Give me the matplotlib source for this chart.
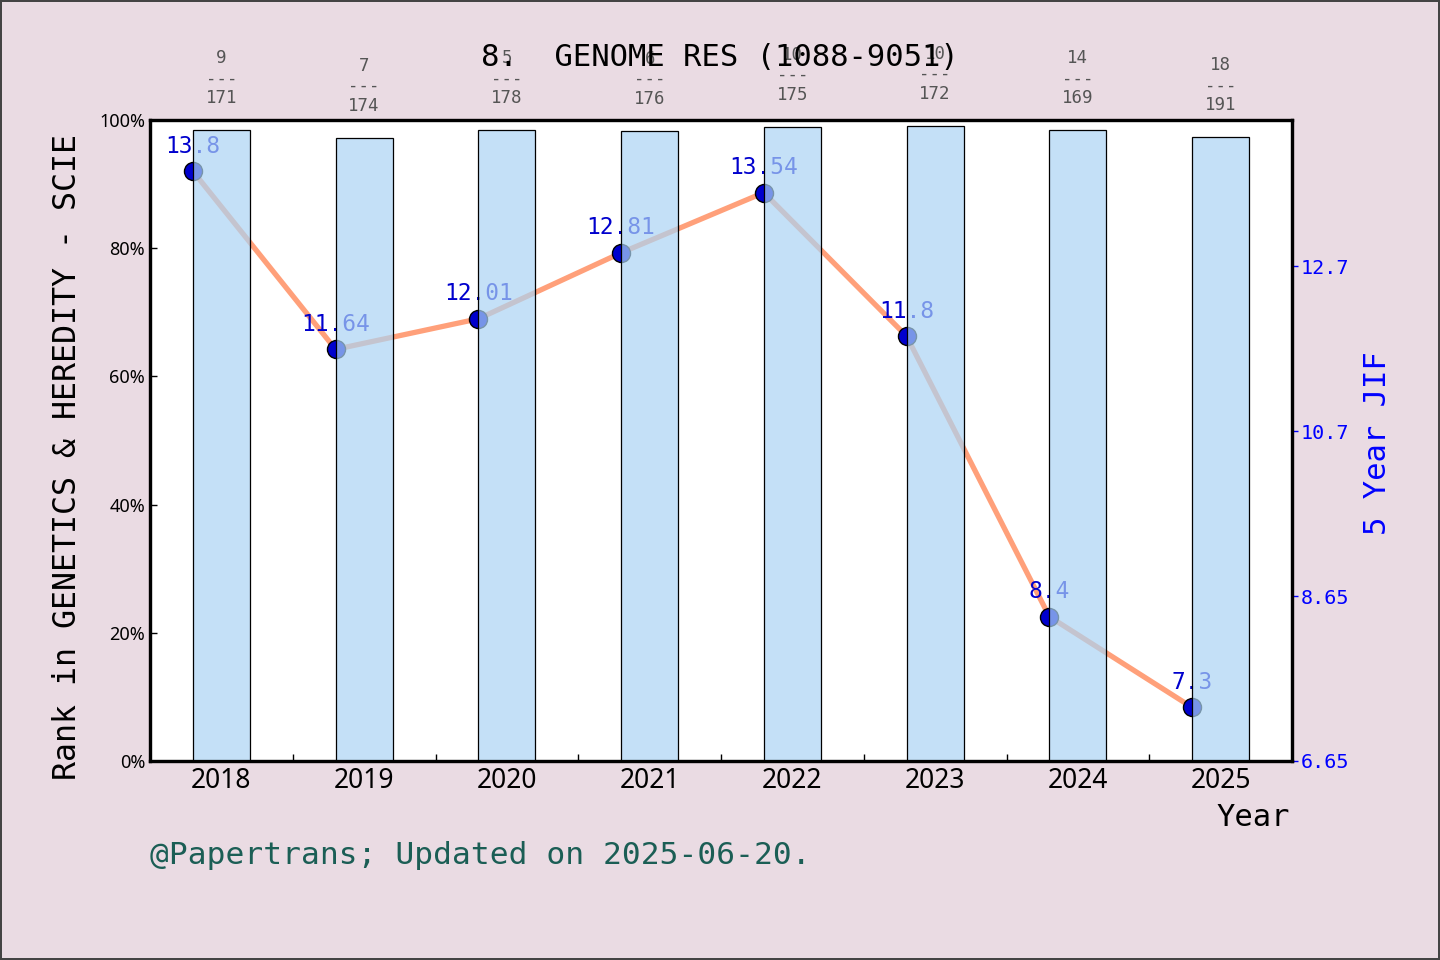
import numpy as np
import matplotlib.pyplot as plt

## Data
years = ['2018', '2019', '2020', '2021', '2022', '2023', '2024', '2025']
jif5 = [13.8, 11.64, 12.01, 12.81, 13.54, 11.8, 8.4, 7.3]
bar_pct = [0.984, 0.972, 0.984, 0.983, 0.989, 0.991, 0.984, 0.973]
rank_top = ['9', '7', '5', '6', '10', '10', '14', '18']
rank_total = ['171', '174', '178', '176', '175', '172', '169', '191']
jif_ticks = [6.65, 8.65, 10.65, 12.65]
pct_ticks = [0, 0.2, 0.4, 0.6, 0.8, 1.0]

mono = 'DejaVu Sans Mono'
sans = 'Noto Sans'

fig = plt.figure(figsize=(14.4, 9.6), dpi=100)
fig.patch.set_facecolor('#eadbe3')
fig.patch.set_edgecolor('#444444')
fig.patch.set_linewidth(1.5)

ax1 = fig.add_axes([150/1440, 1 - 761/960, 1142/1440, 641/960])
ax2 = ax1.twinx()
# bars sit above the line so they tint it
ax1.set_zorder(ax2.get_zorder() + 1)
ax1.patch.set_visible(False)
ax2.patch.set_visible(True)
ax2.patch.set_facecolor('white')

x = np.arange(len(years))

# line + points (right axis)
ax2.plot(x, jif5, '-', color='#ffa07a', lw=3.8, zorder=1)
ax2.plot(x, jif5, 'o', ms=13, mfc='#0000cd', mec='black', mew=1, zorder=2)
for xi, v in zip(x, jif5):
    ax2.annotate('%g' % v, (xi, v), xytext=(0, 18), textcoords='offset points',
                 ha='center', va='center', color='#0000cd', fontsize=16.5, family=mono)
ax2.set_ylim(6.65, 14.42)
ax2.set_yticks(jif_ticks)
ax2.set_yticklabels(['%.3g' % t for t in jif_ticks])
ax2.tick_params(axis='y', colors='blue', labelsize=14.5, direction='out', length=4, width=1, pad=2)
for lab in ax2.get_yticklabels():
    lab.set_family(mono)
    lab.set_color('blue')

# bars (left axis)
ax1.bar(x, bar_pct, width=0.4, align='edge', facecolor=(0.67, 0.83, 0.957, 0.7),
        edgecolor='black', linewidth=0.9)
for xi, h, a, b in zip(x, bar_pct, rank_top, rank_total):
    ax1.text(xi + 0.2, h + 0.081, a + '\n---\n' + b, ha='center', va='center',
             fontsize=12.5, color='#555555', family=mono, linespacing=1.15, clip_on=False)
ax1.set_ylim(0, 1)
ax1.set_yticks(pct_ticks)
ax1.set_yticklabels(['%d%%' % round(p * 100) for p in pct_ticks], family=sans)
ax1.tick_params(axis='y', labelsize=13, direction='in', length=5, width=1)
ax1.set_xlim(-0.3, 7.7)
ax1.set_xticks(x + 0.2)
ax1.set_xticklabels(years, family=sans, fontsize=19)
ax1.tick_params(axis='x', length=0, pad=4)
ax1.set_xticks(x[:-1] + 0.7, minor=True)
ax1.tick_params(axis='x', which='minor', direction='in', length=5, width=1)

for ax in (ax1, ax2):
    for s in ax.spines.values():
        s.set_linewidth(2.3)
        s.set_color('black')

fig.text(0.5, 1 - 57/960, '8.  GENOME RES (1088-9051)', ha='center', va='center',
         fontsize=22, family=mono, color='black')
fig.text(68/1440, 1 - 457/960, 'Rank in GENETICS & HEREDITY - SCIE', ha='center', va='center',
         rotation=90, fontsize=22.8, family=mono, color='black')
fig.text(1377/1440, 1 - 443/960, '5 Year JIF', ha='center', va='center',
         rotation=90, fontsize=22, family=mono, color='blue')
fig.text(1290/1440, 1 - 817/960, 'Year', ha='right', va='center',
         fontsize=22, family=mono, color='black')
fig.text(150/1440, 1 - 855/960, '@Papertrans; Updated on 2025-06-20.', ha='left', va='center',
         fontsize=22.5, family=mono, color='#1b5e55')

fig.savefig('out.png', dpi=100, facecolor=fig.get_facecolor(), edgecolor=fig.patch.get_edgecolor())
